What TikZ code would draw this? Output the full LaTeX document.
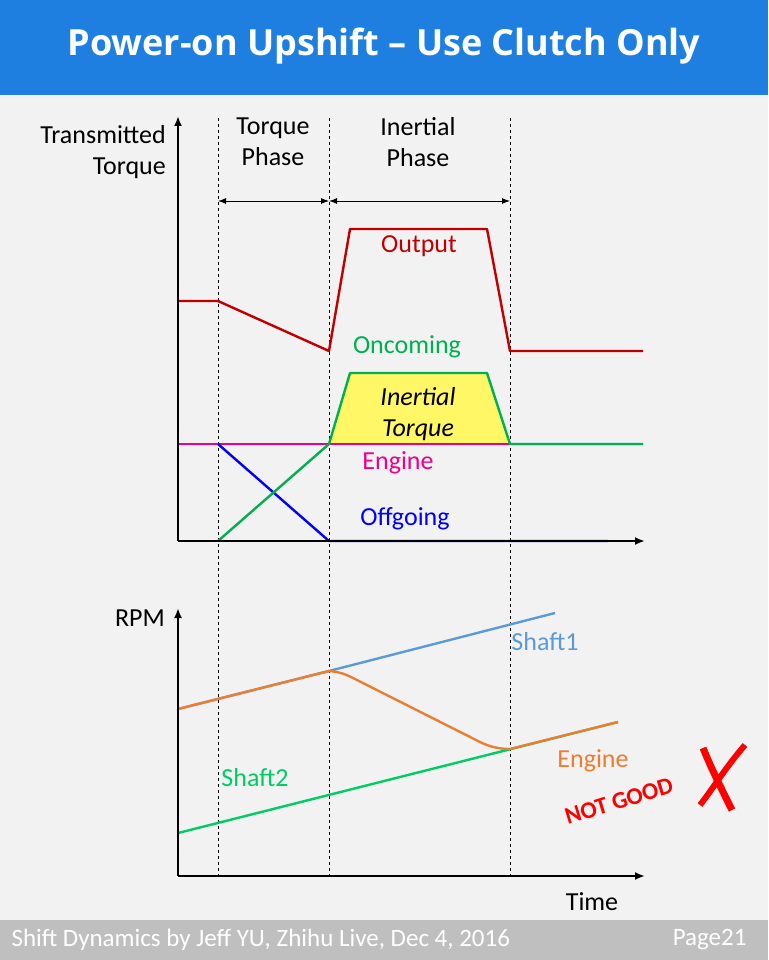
\documentclass[tikz,border=0pt]{standalone}
\usepackage{fontspec}
\setmainfont{Carlito}
\newfontfamily\titlefont{Open Sans}
\usetikzlibrary{arrows.meta}
\definecolor{titleblue}{HTML}{1E7FE0}
\definecolor{bg}{HTML}{F2F2F2}
\definecolor{foot}{HTML}{BFBFBF}
\definecolor{outred}{HTML}{C00000}
\definecolor{ongreen}{HTML}{00B050}
\definecolor{s1blue}{HTML}{5B9BD5}
\definecolor{engor}{HTML}{ED7D31}
\definecolor{s2green}{HTML}{00CC66}
\begin{document}
\begin{tikzpicture}[x=1pt,y=-1pt,
  lbl/.style={font=\fontsize{26}{31}\selectfont, align=center, inner sep=0pt},
  axis/.style={line width=2.2pt,-{Latex[length=10pt,width=8pt]}},
  guide/.style={dashed, line width=0.8pt},
  curve/.style={line width=2.4pt, line join=round}]
\useasboundingbox (0,0) rectangle (768,960);
\fill[bg] (0,95) rectangle (768,920);
\fill[titleblue] (0,0) rectangle (768,95);
\node[font=\titlefont\bfseries\fontsize{36}{40}\selectfont, text=white] (title) at (384,46) {Power-on Upshift – Use Clutch Only};
\fill[foot] (0,920) rectangle (768,960);
\node[font=\fontsize{25}{28}\selectfont, text=white, anchor=west] (credit) at (8,940) {Shift Dynamics by Jeff YU, Zhihu Live, Dec 4, 2016};
\node[font=\fontsize{25}{28}\selectfont, text=white, anchor=east] (page) at (750,940) {Page21};
% guides
\foreach \x in {218,329,510} \draw[guide] (\x,118) -- (\x,876);
\coordinate (a1) at (218,201); \coordinate (a2) at (329,201); \coordinate (a3) at (510,201);
\draw[{Latex[length=8pt]}-{Latex[length=8pt]}, line width=1pt] (a1) -- (a2);
\draw[{Latex[length=8pt]}-{Latex[length=8pt]}, line width=1pt] (a2) -- (a3);
\node[lbl] (tp) at (273,142) {Torque\\Phase};
\node[lbl] (ip) at (418,142) {Inertial\\Phase};
\node[lbl, align=right, anchor=east] (tt) at (166,152) {Transmitted\\Torque};
% upper plot
\fill[yellow!60] (329,444) -- (350,373) -- (487,373) -- (510,444) -- cycle;
\draw[curve, magenta] (178,444) -- (643,444);
\draw[curve, blue] (218,444) -- (329,541) -- (608,541);
\draw[curve, ongreen] (218,541) -- (329,444) -- (350,373) -- (487,373) -- (510,444) -- (643,444);
\draw[curve, outred] (178,301) -- (218,301) -- (329,351) -- (350,229) -- (487,229) -- (510,351) -- (643,351);
\coordinate (o1) at (178,541);
\draw[axis] (o1) -- (178,116);
\draw[axis] (o1) -- (645,541);
\node[lbl, text=outred] (out) at (419,246) {Output};
\node[lbl, text=ongreen] (onc) at (407,347) {Oncoming};
\node[lbl, font=\itshape\fontsize{26}{31}\selectfont] (it) at (418,414) {Inertial\\Torque};
\node[lbl, text=magenta] (eng) at (398,463) {Engine};
\node[lbl, text=blue] (off) at (405,519) {Offgoing};
% lower plot
\draw[curve, s2green] (178,833) -- (618,722);
\draw[curve, s1blue] (178,709) -- (329,671) -- (555,613);
\draw[curve, engor] (178,709) -- (329,671) .. controls (340,672) and (345,674) .. (355,679) -- (480,742) .. controls (490,747) and (500,749) .. (510,749) -- (618,722);
\coordinate (o2) at (178,876);
\draw[axis] (o2) -- (178,608);
\draw[axis] (o2) -- (645,876);
\node[lbl] (rpm) at (140,618) {RPM};
\node[lbl] (time) at (592,902) {Time};
\node[lbl, text=s1blue] (s1) at (545,642) {Shaft1};
\node[lbl, text=engor] (e2) at (593,761) {Engine};
\node[lbl, text=s2green] (s2) at (255,778) {Shaft2};
\node[lbl, text=red, font=\bfseries\fontsize{24}{28}\selectfont, rotate=17] (ng) at (619,801) {NOT GOOD};
\draw[red, line width=7pt] (703,748) .. controls (712,770) and (722,790) .. (732,810);
\draw[red, line width=6pt] (745,745) .. controls (725,768) and (712,790) .. (700,805);
\end{tikzpicture}
\end{document}
